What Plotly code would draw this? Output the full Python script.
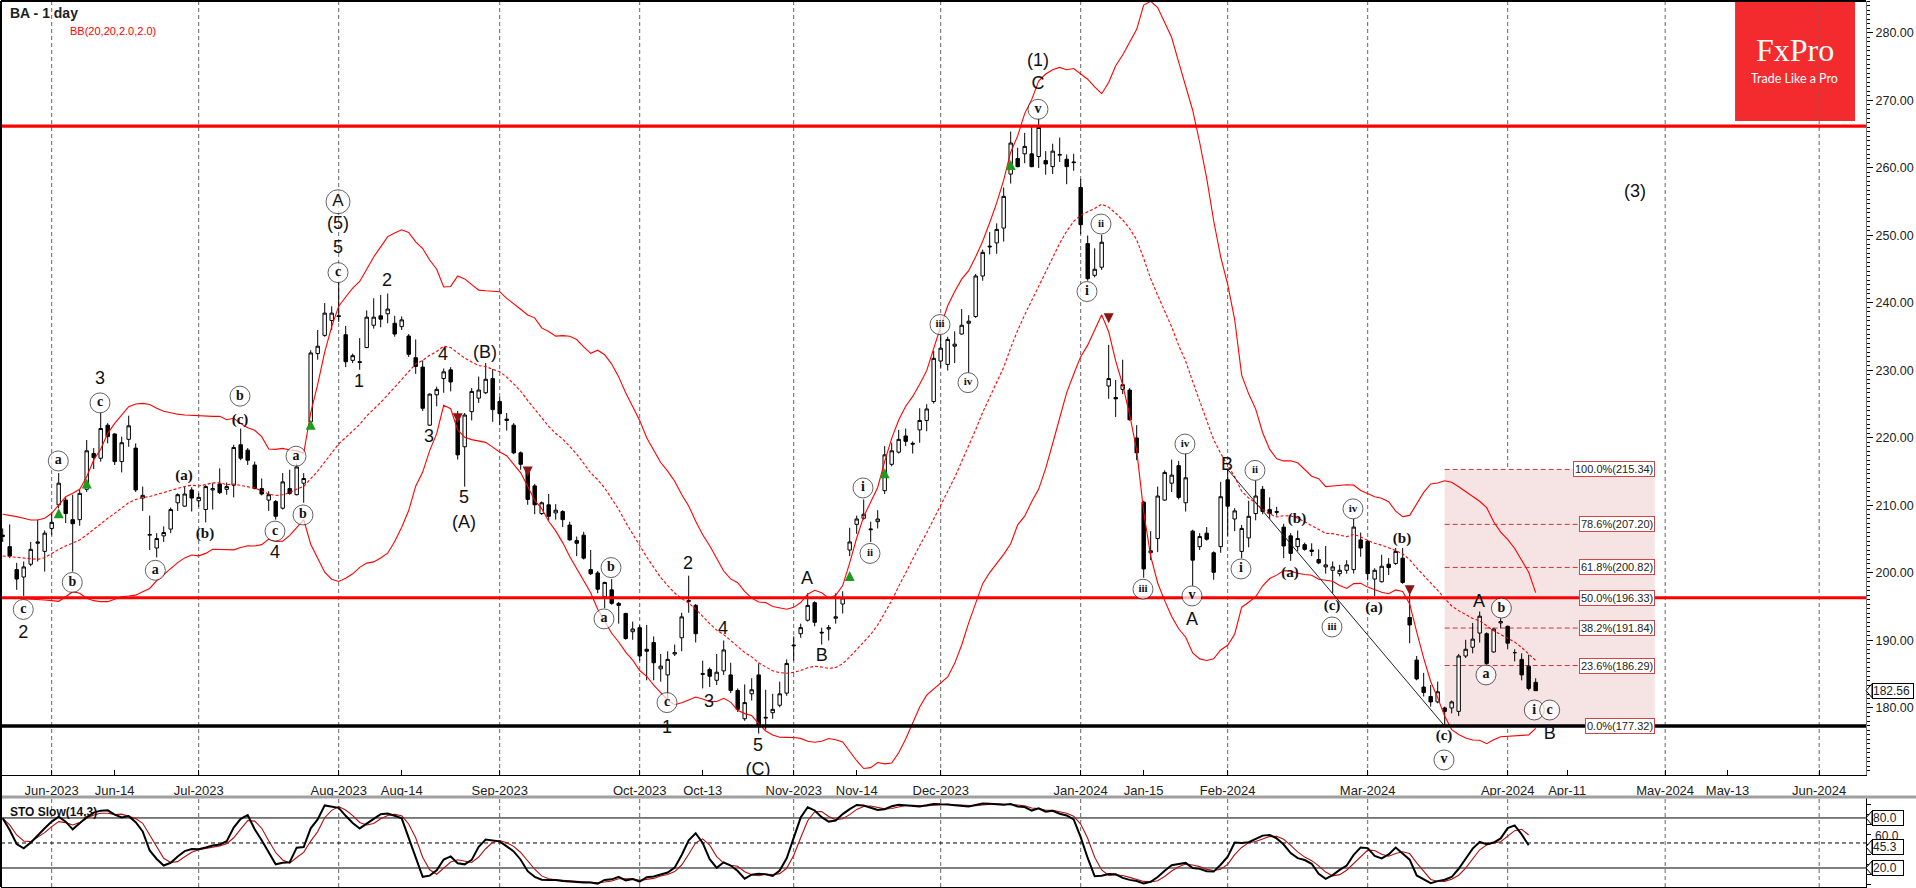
import numpy as np
import pandas as pd
import plotly.graph_objects as go

# ---------------------------------------------------------------- data
holidays = ["2023-05-29", "2023-06-19", "2023-07-04", "2023-09-04", "2023-11-23",
            "2023-12-25", "2024-01-01", "2024-01-15", "2024-02-19", "2024-03-29"]
dates = pd.bdate_range("2023-05-22", "2024-04-05", freq="C", holidays=holidays)

opens = [
    205.4, 203.9, 200.5, 199.4, 201.3, 204.4, 203.2, 206.6, 210.1, 210.8,
    207.9, 207.9, 212.4, 217.7, 217.0, 221.9, 220.6, 216.5, 219.8, 218.5,
    211.1, 205.6, 203.7, 205.5, 206.5, 210.4, 209.9, 212.3, 210.7, 209.4,
    212.3, 213.2, 212.4, 213.0, 219.0, 218.2, 216.0, 212.5, 210.8, 210.6,
    209.6, 212.5, 211.6, 213.3, 222.4, 232.5, 235.2, 237.4, 238.1, 235.3,
    231.5, 231.3, 233.4, 236.7, 238.1, 238.4, 237.0, 236.5, 235.1, 231.9,
    230.5, 221.9, 226.4, 228.8, 230.1, 222.7, 218.7, 223.9, 225.9, 226.7,
    228.8, 225.4, 222.8, 221.9, 217.8, 215.5, 212.9, 208.8, 210.1, 208.9,
    209.1, 207.1, 204.8, 205.6, 200.5, 200.0, 196.5, 197.5, 195.5, 194.0,
    191.3, 191.9, 188.7, 189.7, 185.8, 184.9, 188.0, 190.4, 195.8, 195.2,
    185.1, 185.7, 184.1, 185.5, 184.9, 182.6, 178.4, 182.1, 184.9, 178.5,
    179.3, 180.4, 182.2, 189.2, 191.0, 193.0, 195.6, 191.1, 191.7, 193.3,
    195.4, 203.4, 207.2, 208.1, 206.4, 207.6, 212.2, 216.1, 217.9, 220.3,
    219.2, 221.2, 222.6, 225.4, 231.4, 230.9, 233.6, 235.4, 237.0, 238.0,
    244.0, 248.3, 248.9, 251.1, 259.1, 261.4, 262.1, 262.1, 261.7, 261.1,
    260.2, 261.9, 261.3, 260.9, 257.1, 248.8, 244.1, 245.3, 227.7, 226.0,
    227.2, 227.1, 220.0, 210.5, 203.0, 205.1, 210.8, 213.3, 215.9, 210.4,
    206.2, 203.9, 205.9, 203.0, 203.9, 213.8, 208.0, 203.2, 205.2, 208.8,
    212.4, 209.4, 209.1, 206.8, 205.5, 203.9, 204.2, 203.4, 202.0, 200.9,
    200.4, 199.9, 200.4, 200.5, 204.9, 204.7, 199.1, 198.7, 201.3, 201.4,
    202.2, 193.4, 187.1, 183.1, 181.7, 180.9, 180.0, 180.0, 179.5, 187.7,
    189.0, 191.1, 191.0, 188.3, 192.6, 192.1, 188.2, 187.2, 186.2, 183.8,
]
highs = [
    206.6, 207.2, 201.5, 201.7, 204.6, 207.9, 206.3, 208.8, 214.8, 211.2,
    211.6, 212.3, 219.7, 218.5, 223.7, 222.2, 220.7, 220.2, 223.3, 219.2,
    212.8, 208.5, 205.9, 206.9, 209.7, 211.8, 212.8, 212.7, 211.8, 213.0,
    213.3, 215.5, 213.4, 219.0, 221.4, 218.5, 216.5, 214.0, 212.1, 210.8,
    214.8, 215.3, 216.2, 214.8, 233.0, 236.0, 240.0, 239.5, 243.0, 236.6,
    232.5, 234.8, 238.9, 240.7, 241.2, 241.4, 238.1, 238.0, 235.4, 234.6,
    231.5, 226.6, 227.6, 230.3, 230.5, 224.0, 223.7, 227.4, 229.1, 231.1,
    230.2, 226.1, 223.7, 222.2, 218.0, 215.7, 213.2, 210.6, 211.7, 210.2,
    209.3, 207.6, 205.4, 206.1, 203.4, 200.3, 198.7, 199.1, 195.7, 194.1,
    192.8, 192.3, 192.3, 190.6, 188.0, 188.4, 189.4, 194.1, 199.6, 195.4,
    187.0, 186.0, 188.0, 190.0, 186.7, 182.9, 183.5, 184.4, 186.6, 182.7,
    182.1, 183.9, 187.2, 190.6, 192.5, 197.0, 195.8, 191.9, 192.3, 197.0,
    197.3, 206.7, 208.5, 210.9, 207.6, 209.3, 218.8, 219.3, 221.2, 221.4,
    219.5, 224.4, 225.0, 232.9, 235.3, 235.0, 235.8, 239.1, 238.2, 244.3,
    247.9, 250.5, 251.8, 257.1, 265.4, 263.0, 265.2, 266.1, 267.3, 262.5,
    263.6, 264.5, 262.0, 262.1, 258.4, 250.0, 248.1, 250.1, 233.8, 228.6,
    231.6, 227.4, 221.9, 210.7, 206.2, 212.8, 215.2, 216.8, 216.6, 217.7,
    206.4, 205.9, 206.8, 203.2, 213.5, 215.34, 209.6, 207.1, 210.7, 213.7,
    212.9, 211.2, 209.8, 207.3, 205.9, 206.3, 204.5, 204.4, 203.5, 204.0,
    201.7, 201.2, 201.9, 208.0, 206.0, 204.9, 200.7, 202.7, 202.2, 203.7,
    203.7, 197.5, 187.7, 185.2, 183.4, 183.9, 180.2, 181.1, 188.0, 190.1,
    192.6, 194.3, 191.2, 191.8, 193.3, 192.2, 188.7, 188.1, 187.9, 184.4,
]
lows = [
    204.6, 202.2, 197.5, 196.6, 201.0, 201.7, 200.2, 205.6, 209.6, 207.4,
    200.2, 207.0, 212.0, 215.4, 216.5, 219.2, 216.0, 214.9, 218.7, 212.0,
    209.2, 203.4, 202.3, 204.6, 205.9, 209.2, 209.8, 209.1, 209.8, 207.5,
    209.4, 211.7, 211.6, 211.2, 216.7, 216.0, 212.4, 211.5, 209.2, 207.9,
    209.4, 211.6, 211.5, 210.4, 221.9, 231.6, 235.0, 236.0, 237.2, 230.5,
    231.1, 230.1, 233.3, 236.2, 236.4, 237.0, 235.0, 236.0, 232.0, 229.5,
    224.0, 221.8, 224.7, 226.7, 226.9, 216.8, 212.8, 222.6, 225.2, 226.5,
    222.4, 221.9, 221.1, 217.6, 215.3, 210.1, 208.7, 208.6, 207.8, 207.9,
    206.8, 204.8, 202.5, 202.0, 199.7, 197.0, 194.8, 195.3, 192.5, 190.1,
    190.1, 187.0, 184.1, 184.1, 183.9, 181.3, 187.7, 188.4, 194.1, 189.7,
    182.9, 183.1, 183.4, 184.9, 182.2, 179.4, 178.1, 181.1, 176.2, 176.8,
    178.4, 180.1, 181.8, 187.0, 190.4, 192.8, 192.1, 189.4, 190.0, 192.5,
    194.0, 202.5, 205.8, 207.9, 204.6, 206.6, 211.7, 215.8, 217.7, 218.8,
    217.7, 219.3, 221.0, 225.1, 230.4, 230.0, 231.1, 235.3, 229.7, 237.8,
    243.3, 247.2, 247.3, 249.1, 257.7, 260.1, 260.7, 260.1, 260.0, 259.0,
    259.1, 260.9, 257.6, 259.6, 250.2, 243.3, 243.8, 244.9, 225.8, 223.1,
    226.5, 222.6, 216.7, 199.3, 201.9, 203.1, 210.7, 212.0, 210.9, 209.1,
    198.1, 203.4, 204.8, 199.0, 203.0, 205.5, 206.2, 202.2, 203.8, 207.8,
    208.7, 208.0, 208.5, 202.2, 201.8, 203.2, 203.3, 202.5, 201.3, 199.9,
    197.0, 199.5, 199.9, 199.9, 202.4, 198.9, 196.6, 198.6, 199.7, 201.2,
    198.4, 189.6, 184.1, 181.7, 180.2, 180.7, 177.32, 179.2, 178.8, 187.4,
    188.1, 189.7, 186.4, 188.2, 191.8, 188.7, 186.9, 184.1, 182.6, 182.6,
]
closes = [
    205.6, 202.5, 199.1, 200.9, 203.5, 204.6, 205.9, 207.5, 213.3, 208.8,
    207.3, 211.8, 218.1, 217.1, 221.4, 220.2, 216.5, 219.3, 221.8, 212.3,
    211.5, 205.7, 205.1, 206.0, 209.4, 211.6, 211.7, 211.1, 211.2, 212.8,
    212.5, 211.9, 212.8, 218.6, 217.0, 216.7, 212.5, 211.7, 211.6, 208.4,
    213.5, 211.8, 215.7, 214.0, 232.6, 233.6, 238.5, 238.5, 238.0, 231.3,
    232.2, 231.2, 237.9, 237.9, 237.6, 239.1, 235.4, 237.5, 232.4, 230.6,
    224.4, 226.5, 227.2, 229.8, 228.3, 217.5, 223.4, 226.9, 227.1, 228.7,
    224.2, 223.6, 222.6, 217.8, 216.1, 210.9, 210.1, 210.4, 208.4, 209.3,
    207.9, 204.9, 204.4, 202.2, 199.9, 197.6, 198.6, 195.5, 195.2, 190.3,
    191.7, 187.7, 188.4, 186.7, 186.2, 187.2, 188.2, 193.5, 195.9, 191.0,
    185.0, 184.7, 185.3, 188.6, 182.6, 179.8, 180.8, 182.7, 177.5, 178.6,
    179.8, 182.1, 186.6, 189.3, 191.9, 195.2, 192.7, 191.2, 191.9, 193.5,
    196.3, 204.6, 208.0, 208.7, 206.5, 208.0, 217.5, 218.1, 219.8, 219.5,
    219.1, 222.6, 224.3, 231.8, 233.3, 234.6, 233.9, 236.7, 237.3, 244.0,
    247.5, 248.4, 250.9, 255.8, 263.7, 260.2, 263.2, 260.2, 266.0, 260.6,
    262.5, 262.0, 260.2, 260.8, 251.6, 243.6, 245.0, 249.0, 228.8, 225.8,
    227.9, 222.7, 217.8, 200.6, 203.3, 211.4, 214.9, 214.5, 211.2, 214.1,
    201.9, 205.4, 205.0, 200.1, 211.3, 209.9, 209.2, 206.6, 208.4, 211.4,
    209.1, 208.8, 209.0, 204.0, 202.9, 205.1, 203.5, 203.2, 201.5, 201.2,
    200.9, 200.4, 201.2, 206.8, 203.7, 199.9, 200.4, 201.0, 200.8, 203.2,
    198.6, 192.3, 184.3, 182.3, 180.9, 182.4, 179.5, 180.9, 187.7, 188.7,
    190.2, 193.6, 186.6, 191.7, 192.8, 189.6, 188.2, 184.9, 182.9, 182.56,
]

# indicator values for the bars before the look-back is filled
bb_upper_head = [208.69, 208.54, 208.35, 208.10, 207.85, 207.85, 208.10, 208.84, 210.07, 211.31,
                 211.80, 212.40, 214.27, 216.74, 218.32, 220.69, 222.17, 223.41, 224.64]
bb_mid_head = [202.52, 202.42, 202.27, 202.17, 202.07, 202.02, 202.27, 202.91, 203.51, 204.00,
               204.40, 204.89, 205.63, 206.47, 207.36, 208.10, 208.84, 209.58, 210.42]
bb_lower_head = [196.39, 196.34, 196.25, 196.20, 196.20, 196.15, 196.00, 195.90, 195.80, 196.49,
                 197.23, 196.99, 196.25, 195.90, 195.75, 195.75, 196.10, 196.49, 196.59]
sto_k_head = [79.6, 65.6, 48.8, 43.6, 50.4, 59.6, 67.6, 75.6, 81.6, 75.6, 66.4, 73.6, 80.8, 86.4, 88.8]
sto_d_head = [79.6, 71.6, 59.6, 52.4, 51.6, 56.8, 62.4, 69.6, 75.6, 74.4, 71.6, 74.4, 79.6, 83.6,
              85.6, 85.6, 84.0]
sto_shown_bars = 219          # the oscillator is drawn up to the bar before the last candle
sto_value_tag = 45.3          # current oscillator value printed on the scale
sto_hidden_tag = ("60.0", 58.0)

resistance_levels = [266.2, 196.33]
support_levels = [177.32]
sto_levels_solid = [80, 20]
sto_levels_dash = [50]

fib_pct = [100.0, 78.6, 61.8, 50.0, 38.2, 23.6, 0.0]
fib_price = [215.34, 207.20, 200.82, 196.33, 191.84, 186.29, 177.32]
fib_anchor_date = "2024-03-18"
trend_dates = ["2024-02-01", "2024-03-18"]
trend_prices = [215.34, 177.32]

buy_signal_dates = ["2023-06-02", "2023-06-08", "2023-07-26", "2023-11-13", "2023-11-20", "2023-12-15"]
buy_signal_prices = [209.6, 214.0, 222.7, 200.3, 215.5, 261.2]
sell_signal_dates = ["2023-08-24", "2023-09-08", "2024-01-08", "2024-03-11"]
sell_signal_prices = [222.2, 214.3, 237.0, 196.7]

month_tick_labels = ["Jun-2023", "Jun-14", "Jul-2023", "Aug-2023", "Aug-14", "Sep-2023", "Oct-2023",
                     "Oct-13", "Nov-2023", "Nov-14", "Dec-2023", "Jan-2024", "Jan-15", "Feb-2024",
                     "Mar-2024", "Apr-2024"]
month_tick_dates = ["2023-06-01", "2023-06-14", "2023-07-03", "2023-08-01", "2023-08-14", "2023-09-01",
                    "2023-10-02", "2023-10-13", "2023-11-01", "2023-11-14", "2023-12-01", "2024-01-02",
                    "2024-01-16", "2024-02-01", "2024-03-01", "2024-04-01"]
future_tick_labels = ["Apr-11", "May-2024", "May-13", "Jun-2024"]
future_tick_pos = [223.5, 237.5, 246.4, 259.5]
grid_labels = {"Jun-2023", "Jul-2023", "Aug-2023", "Sep-2023", "Oct-2023", "Nov-2023", "Dec-2023",
               "Jan-2024", "Feb-2024", "Mar-2024", "Apr-2024", "May-2024", "Jun-2024"}

# Elliott wave labels: (bar position, price, text, kind)
wave_labels = [
    (2.94, 194.6, "c", "circle"), (2.94, 191.1, "2", "plain"),
    (7.94, 216.6, "a", "circle"), (9.94, 198.6, "b", "circle"),
    (13.9, 228.7, "3", "plain"), (13.9, 225.2, "c", "circle"),
    (21.8, 200.4, "a", "circle"), (25.9, 214.4, "(a)", "paren"),
    (28.9, 205.7, "(b)", "paren"), (33.9, 226.2, "b", "circle"),
    (33.9, 222.7, "(c)", "paren"), (38.9, 206.2, "c", "circle"),
    (38.9, 202.9, "4", "plain"), (41.9, 217.3, "a", "circle"),
    (42.9, 208.6, "b", "circle"), (47.9, 255.0, "A", "circle_big"),
    (47.9, 251.6, "(5)", "plain"), (47.9, 248.1, "5", "plain"),
    (47.9, 244.5, "c", "circle"), (54.9, 243.2, "2", "plain"),
    (50.9, 228.2, "1", "plain"), (62.9, 232.2, "4", "plain"),
    (68.9, 232.5, "(B)", "plain"), (60.9, 220.0, "3", "plain"),
    (65.9, 211.1, "5", "plain"), (65.9, 207.4, "(A)", "plain"),
    (86.9, 200.8, "b", "circle"), (85.9, 193.2, "a", "circle"),
    (94.9, 180.8, "c", "circle"), (94.9, 176.9, "1", "plain"),
    (97.9, 201.3, "2", "plain"), (100.9, 180.8, "3", "plain"),
    (102.9, 191.7, "4", "plain"), (107.9, 174.3, "5", "plain"),
    (107.9, 170.8, "(C)", "plain"), (114.9, 199.0, "A", "plain"),
    (117.0, 187.7, "B", "plain"), (122.9, 212.6, "i", "circle"),
    (123.9, 202.9, "ii", "circle"), (133.9, 236.8, "iii", "circle"),
    (137.9, 228.2, "iv", "circle"), (147.9, 272.3, "C", "plain"),
    (147.9, 275.8, "(1)", "plain"), (147.9, 268.7, "v", "circle"),
    (156.9, 251.7, "ii", "circle"), (154.9, 241.7, "i", "circle"),
    (162.9, 197.6, "iii", "circle"), (168.9, 219.1, "iv", "circle"),
    (169.9, 196.6, "v", "circle"), (169.9, 193.0, "A", "plain"),
    (174.9, 215.9, "B", "plain"), (178.9, 215.2, "ii", "circle"),
    (176.9, 200.6, "i", "circle"), (184.9, 207.9, "(b)", "paren"),
    (183.9, 200.0, "(a)", "paren"), (189.9, 195.1, "(c)", "paren"),
    (189.9, 192.0, "iii", "circle"), (192.9, 209.5, "iv", "circle"),
    (195.9, 194.8, "(a)", "paren"), (199.9, 205.0, "(b)", "paren"),
    (210.9, 195.6, "A", "plain"), (214.1, 194.8, "b", "circle"),
    (211.9, 184.9, "a", "circle"), (205.9, 175.8, "(c)", "paren"),
    (205.9, 172.3, "v", "circle"), (218.8, 179.7, "i", "circle"),
    (221.0, 179.7, "c", "circle"), (221.0, 176.0, "B", "plain"),
    (233.2, 256.3, "(3)", "plain"),
]

# ---------------------------------------------------------------- derived series
x = np.arange(len(dates))
pos = {d.strftime("%Y-%m-%d"): i for i, d in enumerate(dates)}

c = pd.Series(closes, dtype=float)
h = pd.Series(highs, dtype=float)
l = pd.Series(lows, dtype=float)
bb_mid = c.rolling(20).mean()
bb_sd = c.rolling(20).std(ddof=0)
bb_up = bb_mid + 2 * bb_sd
bb_lo = bb_mid - 2 * bb_sd
n0 = len(bb_mid_head)
bb_mid.iloc[:n0] = bb_mid_head
bb_up.iloc[:n0] = bb_upper_head
bb_lo.iloc[:n0] = bb_lower_head

hh = h.rolling(14).max()
ll = l.rolling(14).min()
fast_k = 100 * (c - ll) / (hh - ll)
slow_k = fast_k.rolling(3).mean()
slow_k.iloc[:len(sto_k_head)] = sto_k_head
slow_d = slow_k.rolling(3).mean()
slow_d.iloc[:len(sto_d_head)] = sto_d_head
xs = x[:sto_shown_bars]
slow_k = slow_k.iloc[:sto_shown_bars]
slow_d = slow_d.iloc[:sto_shown_bars]

# ---------------------------------------------------------------- geometry
X_RANGE = [-0.243, 266.19]
Y_RANGE = [170.07, 284.74]
STO_RANGE = [-2.8, 104.0]
MAIN_DOMAIN = [0.1264, 1.0]
STO_DOMAIN = [0.0, 0.1005]
SANS = "Liberation Sans"
SERIF = "Liberation Serif"

fig = go.Figure()

fig.add_trace(go.Candlestick(
    x=x, open=opens, high=highs, low=lows, close=closes,
    increasing=dict(line=dict(color="black", width=1), fillcolor="white"),
    decreasing=dict(line=dict(color="black", width=1), fillcolor="black"),
    whiskerwidth=0, hoverinfo="skip", showlegend=False, xaxis="x", yaxis="y"))

for arr, dash in ((bb_up, "solid"), (bb_mid, "3px,2px"), (bb_lo, "solid")):
    fig.add_trace(go.Scatter(x=x, y=arr, mode="lines", hoverinfo="skip", showlegend=False,
                             line=dict(color="#ff0000", width=1.1, dash=dash), xaxis="x", yaxis="y"))

for lvl in resistance_levels:
    fig.add_trace(go.Scatter(x=X_RANGE, y=[lvl, lvl], mode="lines", hoverinfo="skip", showlegend=False,
                             line=dict(color="#ff0000", width=3.2), xaxis="x", yaxis="y"))
for lvl in support_levels:
    fig.add_trace(go.Scatter(x=X_RANGE, y=[lvl, lvl], mode="lines", hoverinfo="skip", showlegend=False,
                             line=dict(color="black", width=3.6), xaxis="x", yaxis="y"))

fig.add_trace(go.Scatter(x=[pos[d] for d in trend_dates], y=trend_prices, mode="lines",
                         hoverinfo="skip", showlegend=False, line=dict(color="#222", width=1),
                         xaxis="x", yaxis="y"))

fig.add_trace(go.Scatter(x=[pos[d] for d in buy_signal_dates], y=buy_signal_prices, mode="markers",
                         hoverinfo="skip", showlegend=False,
                         marker=dict(symbol="arrow-up", size=10, color="#1e9a1e",
                                     line=dict(width=0)), xaxis="x", yaxis="y"))
fig.add_trace(go.Scatter(x=[pos[d] for d in sell_signal_dates], y=sell_signal_prices, mode="markers",
                         hoverinfo="skip", showlegend=False,
                         marker=dict(symbol="arrow-down", size=10, color="#8b1515",
                                     line=dict(width=0)), xaxis="x", yaxis="y"))

# wave label circles
circ = [w for w in wave_labels if w[3] in ("circle", "circle_big")]
fig.add_trace(go.Scatter(
    x=[w[0] for w in circ], y=[w[1] for w in circ], mode="markers", hoverinfo="skip", showlegend=False,
    marker=dict(symbol="circle", size=[24 if w[3] == "circle_big" else 20 for w in circ],
                color="white", line=dict(color="#222", width=1)), xaxis="x", yaxis="y"))

small = [w for w in wave_labels if w[3] == "circle"]
fig.add_trace(go.Scatter(
    x=[w[0] for w in small], y=[w[1] for w in small], text=[w[2] for w in small], mode="text",
    textposition="middle center", hoverinfo="skip", showlegend=False,
    textfont=dict(family=SERIF, size=[14 if len(w[2]) == 1 else 11 for w in small], color="#111",
                  weight="bold"), xaxis="x", yaxis="y"))
big = [w for w in wave_labels if w[3] == "circle_big"]
fig.add_trace(go.Scatter(
    x=[w[0] for w in big], y=[w[1] for w in big], text=[w[2] for w in big], mode="text",
    textposition="middle center", hoverinfo="skip", showlegend=False,
    textfont=dict(family=SANS, size=17, color="#111"), xaxis="x", yaxis="y"))
plain = [w for w in wave_labels if w[3] == "plain"]
fig.add_trace(go.Scatter(
    x=[w[0] for w in plain], y=[w[1] for w in plain], text=[w[2] for w in plain], mode="text",
    textposition="middle center", hoverinfo="skip", showlegend=False, cliponaxis=True,
    textfont=dict(family=SANS, size=18, color="#111"), xaxis="x", yaxis="y"))
paren = [w for w in wave_labels if w[3] == "paren"]
fig.add_trace(go.Scatter(
    x=[w[0] for w in paren], y=[w[1] for w in paren], text=[w[2] for w in paren], mode="text",
    textposition="middle center", hoverinfo="skip", showlegend=False,
    textfont=dict(family=SERIF, size=15, color="#111", weight="bold"), xaxis="x", yaxis="y"))

# stochastic
fig.add_trace(go.Scatter(x=xs, y=slow_d, mode="lines", hoverinfo="skip", showlegend=False,
                         line=dict(color="#b01010", width=1.1), xaxis="x2", yaxis="y2"))
fig.add_trace(go.Scatter(x=xs, y=slow_k, mode="lines", hoverinfo="skip", showlegend=False,
                         line=dict(color="black", width=2), xaxis="x2", yaxis="y2"))

# ---------------------------------------------------------------- shapes
shapes = []
# FxPro logo block
shapes.append(dict(type="rect", xref="paper", yref="paper", x0=0.9298, x1=0.9941, y0=0.8646, y1=1.0,
                   fillcolor="#f42b2e", line=dict(width=0), layer="below"))
# fibonacci box
fib_start = pos[fib_anchor_date]
fib_end = fib_start + 30
shapes.append(dict(type="rect", xref="x", yref="y", x0=fib_start, x1=fib_end,
                   y0=min(fib_price), y1=max(fib_price), fillcolor="#f6e3e3",
                   line=dict(width=0), layer="below"))
for p in fib_price:
    shapes.append(dict(type="line", xref="x", yref="y", x0=fib_start, x1=fib_end, y0=p, y1=p,
                       line=dict(color="#c43c3c", width=1, dash="5px,3px"), layer="below"))

# vertical month grid lines
tick_pos = [pos[d] for d in month_tick_dates] + future_tick_pos
tick_txt = month_tick_labels + future_tick_labels
for p, t in zip(tick_pos, tick_txt):
    if t in grid_labels:
        for xr, yr in (("x", "y domain"), ("x2", "y2 domain")):
            shapes.append(dict(type="line", xref=xr, yref=yr, x0=p, x1=p, y0=0, y1=1,
                               line=dict(color="#666", width=1, dash="4px,3px"), layer="below"))
# stochastic levels
for v in sto_levels_solid:
    shapes.append(dict(type="line", xref="paper", yref="y2", x0=0, x1=1, y0=v, y1=v,
                       line=dict(color="black", width=1), layer="below"))
for v in sto_levels_dash:
    shapes.append(dict(type="line", xref="paper", yref="y2", x0=0, x1=1, y0=v, y1=v,
                       line=dict(color="black", width=1, dash="4px,3px"), layer="below"))
# frame lines
shapes.append(dict(type="line", xref="paper", yref="paper", x0=-0.01, x1=1.03, y0=0.1016, y1=0.1016,
                   line=dict(color="#a0a0a0", width=3), layer="above"))
shapes.append(dict(type="line", xref="paper", yref="paper", x0=0, x1=0, y0=0, y1=1,
                   line=dict(color="black", width=2), layer="above"))
shapes.append(dict(type="line", xref="paper", yref="paper", x0=0, x1=1, y0=1, y1=1,
                   line=dict(color="black", width=2), layer="above"))

# right-side value tags (arrow points)
tags = [(closes[-1], "y", f"{closes[-1]:.2f}", 40),
        (80, "y2", "80.0", 30), (20, "y2", "20.0", 30),
        (sto_value_tag, "y2", f"{sto_value_tag:.1f}", 30)]
for val, yr, _, _w in tags:
    shapes.append(dict(type="path", xref="paper", yref=yr, xsizemode="pixel", ysizemode="pixel",
                       xanchor=1.0, yanchor=val, path="M 0 0 L 6 7 L 6 -7 Z",
                       fillcolor="white", line=dict(color="black", width=1), layer="above"))

fig.update_layout(shapes=shapes)

# ---------------------------------------------------------------- annotations
ann = []
ann.append(dict(xref="paper", yref="paper", x=0.0035, y=0.9866, xanchor="left", yanchor="middle",
                text="BA - 1 day", showarrow=False,
                font=dict(family=SANS, size=14, color="#222", weight="bold")))
ann.append(dict(xref="paper", yref="paper", x=0.0359, y=0.9666, xanchor="left", yanchor="middle",
                text="BB(20,20,2.0,2.0)", showarrow=False, font=dict(family=SANS, size=11, color="#ff0000")))
ann.append(dict(xref="paper", yref="paper", x=0.0035, y=0.0850, xanchor="left", yanchor="middle",
                text="STO Slow(14,3)", showarrow=False,
                font=dict(family=SANS, size=12, color="#111", weight="bold")))
ann.append(dict(xref="paper", yref="paper", x=0.9619, y=0.9446, xanchor="center", yanchor="middle",
                text="FxPro", showarrow=False, font=dict(family=SERIF, size=32, color="white")))
ann.append(dict(xref="paper", yref="paper", x=0.9619, y=0.9120, xanchor="center", yanchor="middle",
                text="Trade Like a Pro", showarrow=False, font=dict(family="Lato", size=12.5, color="white")))

for pct, p in zip(fib_pct, fib_price):
    ann.append(dict(xref="x", yref="y", x=fib_end, y=p, xanchor="right", yanchor="middle",
                    text=f"{pct:.1f}%({p:.2f})", showarrow=False,
                    font=dict(family=SANS, size=11, color="#222"), bgcolor="white",
                    bordercolor="#d04545", borderwidth=1, borderpad=1))

# partially hidden level tag behind the current stochastic value
ann.append(dict(xref="paper", yref="y2", x=1.0, y=sto_hidden_tag[1], xanchor="left", yanchor="middle",
                xshift=7, text=sto_hidden_tag[0], showarrow=False,
                font=dict(family=SANS, size=12, color="#222")))
for val, yr, txt, w in tags:
    ann.append(dict(xref="paper", yref=yr, x=1.0, y=val, xanchor="left", yanchor="middle", xshift=6,
                    text=txt, showarrow=False, font=dict(family=SANS, size=12, color="#222"),
                    bgcolor="white", bordercolor="black", borderwidth=1, borderpad=0,
                    width=w, align="left"))
fig.update_layout(annotations=ann)

# ---------------------------------------------------------------- axes
fig.update_layout(
    width=1916, height=888, margin=dict(l=1, r=50, t=1, b=1),
    paper_bgcolor="white", plot_bgcolor="white", showlegend=False, hovermode=False,
    xaxis=dict(domain=[0, 1], range=X_RANGE, anchor="y", tickmode="array", tickvals=tick_pos,
               ticktext=tick_txt, ticks="inside", ticklen=5, tickcolor="black", showline=True,
               linecolor="black", linewidth=1, showgrid=False, zeroline=False,
               tickfont=dict(family=SANS, size=13, color="#222"), rangeslider=dict(visible=False),
               ticklabelstandoff=3),
    xaxis2=dict(domain=[0, 1], range=X_RANGE, anchor="y2", matches="x", showticklabels=False,
                ticks="", showline=True, linecolor="black", linewidth=2, showgrid=False, zeroline=False),
    yaxis=dict(domain=MAIN_DOMAIN, range=Y_RANGE, side="right", anchor="x",
               tickmode="array", tickvals=list(range(180, 290, 10)),
               ticktext=[f"{v:.2f}" for v in range(180, 290, 10)],
               ticks="outside", ticklen=6, tickcolor="black", showline=True, linecolor="#777",
               linewidth=1, showgrid=False, zeroline=False,
               tickfont=dict(family=SANS, size=12.5, color="#222"),
               minor=dict(tick0=180, dtick=10 / 15, ticks="outside", ticklen=3, tickcolor="black")),
    yaxis2=dict(domain=STO_DOMAIN, range=STO_RANGE, side="right", anchor="x2", showticklabels=False,
                ticks="outside", ticklen=4, tickcolor="black", dtick=12, tick0=0, showline=True,
                linecolor="black", linewidth=1, showgrid=False, zeroline=False),
)

fig.write_html("out.html")
